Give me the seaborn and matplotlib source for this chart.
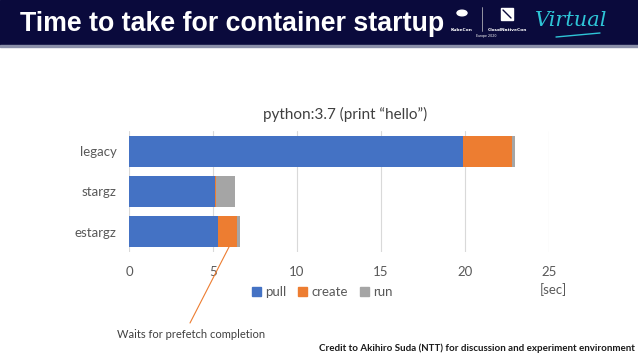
import matplotlib
matplotlib.use("Agg")
import matplotlib.pyplot as plt
import seaborn as sns
import pandas as pd
from matplotlib.patches import Rectangle, Circle
from matplotlib.lines import Line2D

# data (seconds)
categories = ["legacy", "stargz", "estargz"]
pull = [19.9, 5.12, 5.28]
create = [2.88, 0.06, 1.17]
run = [0.2, 1.13, 0.15]

blue = "#4472C4"
orange = "#ED7D31"
gray = "#A5A5A5"
navy = "#0A0A3C"

df = pd.DataFrame({"cat": categories, "pull": pull, "create": create, "run": run})
df["pc"] = df["pull"] + df["create"]
df["total"] = df["pc"] + df["run"]

sns.set_theme(style="white")
plt.rcParams["font.family"] = ["Lato", "DejaVu Sans"]

W, H = 638, 359
fig = plt.figure(figsize=(W / 100, H / 100), dpi=100)

def fx(px):
    return px / W

def fy(py):
    return 1 - py / H

# header band
fig.add_artist(Rectangle((0, fy(45)), 1, 45 / H, transform=fig.transFigure,
                         color=navy, zorder=0))
fig.add_artist(Rectangle((0, fy(47)), 1, 2 / H, transform=fig.transFigure,
                         color="#8a8fa8", zorder=0))
fig.text(fx(20), fy(24), "Time to take for container startup", color="white",
         fontsize=19.3, fontweight="bold", family="Liberation Sans", va="center")

# logos (rough)
fig.add_artist(Circle((fx(462), fy(13)), 5 / W, transform=fig.transFigure,
                      color="white"))
fig.add_artist(Rectangle((fx(501), fy(20)), 12 / W, 12 / H,
                         transform=fig.transFigure, facecolor="white",
                         edgecolor="white"))
fig.add_artist(Line2D([fx(503), fx(511)], [fy(10), fy(18)], color=navy,
                      lw=1, transform=fig.transFigure))
fig.text(fx(462), fy(30), "KubeCon", color="white", fontsize=3.2,
         fontweight="bold", ha="center", va="center", family="DejaVu Sans")
fig.text(fx(507), fy(30), "CloudNativeCon", color="white", fontsize=3.2,
         fontweight="bold", ha="center", va="center", family="DejaVu Sans")
fig.text(fx(486), fy(36), "Europe 2020", color="white", fontsize=2.3,
         ha="center", va="center", family="DejaVu Sans")
fig.add_artist(Line2D([fx(482), fx(482)], [fy(7), fy(31)], color="#cccccc",
                      lw=0.5, transform=fig.transFigure))
fig.text(fx(571), fy(21), "Virtual", color="#2EC4D6", fontsize=15,
         style="italic", ha="center", va="center", family="DejaVu Serif")
fig.add_artist(Line2D([fx(556), fx(600)], [fy(37), fy(33)], color="#2EC4D6",
                      lw=1, transform=fig.transFigure))

# chart: stacked bars drawn as cumulative layers
ax = fig.add_axes([fx(129), fy(252), fx(549) - fx(129), (252 - 131) / H])
for col, c in (("total", gray), ("pc", orange), ("pull", blue)):
    sns.barplot(data=df, y="cat", x=col, color=c, orient="h", width=0.77,
                ax=ax, saturation=1, linewidth=0)

ax.set_xlim(0, 25)
ax.set_xticks([0, 5, 10, 15, 20, 25])
ax.grid(axis="x", color="#d9d9d9", lw=0.8)
ax.set_axisbelow(True)
for s in ax.spines.values():
    s.set_visible(False)
ax.set_xlabel("")
ax.set_ylabel("")
ax.tick_params(axis="both", colors="#595959", labelsize=9.5, length=0)
ax.tick_params(axis="x", pad=10)
ax.tick_params(axis="y", pad=9)

fig.text(fx(345), fy(114), "python:3.7 (print \u201chello\u201d)", color="#404040",
         fontsize=11, ha="center", va="center")

handles = [Rectangle((0, 0), 1, 1, color=c) for c in (blue, orange, gray)]
fig.legend(handles, ["pull", "create", "run"], loc="center",
           bbox_to_anchor=(fx(322), fy(292)), ncol=3, frameon=False,
           fontsize=9.5, handlelength=0.7, handleheight=0.7,
           handletextpad=0.3, columnspacing=0.9, labelcolor="#595959")
fig.text(fx(553), fy(290), "[sec]", color="#595959", fontsize=9.5,
         ha="center", va="center")

# annotation
fig.add_artist(Line2D([fx(229), fx(190)], [fy(247), fy(323)], color=orange,
                      lw=0.8, transform=fig.transFigure))
fig.text(fx(117), fy(334), "Waits for prefetch completion", color="#404040",
         fontsize=8, va="center")
fig.text(fx(635), fy(348), "Credit to Akihiro Suda (NTT) for discussion and experiment environment",
         color="#1a1a1a", fontsize=7, fontweight="bold", ha="right", va="center")

fig.savefig("out.png", dpi=100)
